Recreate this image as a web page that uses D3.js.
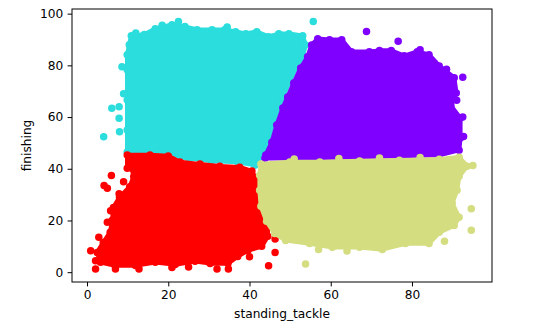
<!DOCTYPE html>
<html>
<head>
<meta charset="utf-8">
<script src="https://cdn.jsdelivr.net/npm/d3@7"></script>
<style>
  body { margin: 0; background: #fff; }
  text { font-family: "DejaVu Sans", sans-serif; }
</style>
</head>
<body>
<div id="chart"></div>
<script>
// cluster colours (rainbow colormap)
const clusterNames = ["cyan", "purple", "red", "yellow"];
const clusterColors = ["#2bdddd", "#8000ff", "#ff0000", "#d4dd80"];

// outline of the dense part of each cluster, [standing_tackle, finishing]
const cyanOutline = [
  [10.9, 91.5], [14.1, 91.9], [16.8, 94.2], [20.9, 95.7], [24.1, 95.0], [27.1, 93.8],
  [30.8, 93.8], [33.9, 93.8], [36.6, 93.0], [39.1, 92.2], [41.8, 93.0], [44.7, 91.1],
  [47.2, 92.2], [49.7, 92.2], [53.1, 91.5], [53.8, 87.9], [53.1, 83.3], [51.4, 79.0],
  [49.7, 73.2], [48.2, 67.8], [47.2, 63.5], [45.7, 56.9], [44.5, 50.3], [43.0, 44.9],
  [41.3, 41.4], [37.1, 42.6], [30.7, 43.0], [25.1, 44.1], [20.9, 44.9], [18.0, 46.5],
  [9.9, 46.5], [9.9, 55.0], [9.9, 66.6], [9.9, 78.3], [9.9, 84.1], [10.4, 88.0]
];
const cyanOutliers = [
  [4.1, 52.4], [6.1, 63.4], [7.9, 64.0], [7.9, 59.5], [8.0, 54.3], [8.6, 79.5], [55.7, 97.0],
  [9.0, 69.0], [18.5, 95.5], [22.5, 97.0], [34.5, 94.8], [12.0, 92.5]
];

const purpleOutline = [
  [56.8, 90.3], [59.7, 89.9], [62.7, 89.9], [65.1, 85.3], [69.5, 85.3], [72.0, 85.7],
  [74.9, 85.7], [78.1, 83.7], [81.3, 85.3], [84.2, 84.1], [86.7, 79.8], [90.4, 75.2],
  [90.9, 69.3], [89.6, 64.3], [91.9, 59.6], [91.9, 51.9], [91.6, 47.2], [86.7, 45.3],
  [76.9, 44.9], [64.6, 44.5], [52.3, 44.1], [43.8, 44.1], [44.0, 45.3], [45.5, 50.3],
  [46.7, 56.9], [48.2, 63.5], [49.4, 67.8], [50.9, 73.2], [52.6, 79.0], [54.3, 83.3],
  [55.3, 87.9]
];
const purpleOutliers = [
  [68.8, 93.1], [76.6, 89.3], [92.5, 75.4], [92.5, 60.0], [92.7, 52.5],
  [60.5, 88.0], [82.0, 86.0], [88.5, 78.5], [91.0, 66.5]
];

const redOutline = [
  [9.9, 45.3], [15.5, 45.3], [20.0, 44.9], [22.9, 42.6], [27.8, 41.8], [32.7, 41.0],
  [37.6, 40.6], [40.6, 39.1], [42.0, 34.8], [43.0, 29.8], [44.0, 24.7], [44.5, 19.3],
  [44.5, 13.9], [43.0, 10.0], [39.6, 8.4], [37.1, 6.1], [34.7, 3.4], [30.3, 3.4],
  [26.6, 4.2], [21.7, 3.0], [16.8, 3.8], [11.9, 2.6], [6.9, 2.6], [3.3, 3.8],
  [2.5, 7.6], [4.0, 11.5], [5.7, 15.4], [6.2, 20.1], [6.5, 25.0], [8.0, 29.0],
  [10.5, 33.0], [11.5, 37.0], [11.0, 40.2], [9.9, 40.2]
];
const redOutliers = [
  [6.0, 37.4], [4.2, 33.5], [5.0, 32.5], [7.9, 30.3], [5.8, 23.8], [5.0, 19.3],
  [2.9, 13.5], [0.9, 8.3], [2.1, 4.4], [2.1, 1.2], [44.7, 2.5], [46.3, 7.6],
  [46.3, 12.8], [45.5, 19.3], [32.0, 1.2], [34.8, 1.2], [20.9, 1.8], [12.8, 1.2], [7.0, 1.2],
  [13.5, 36.0], [9.0, 35.0], [40.0, 6.0], [25.0, 2.0]
];

const yellowOutline = [
  [42.8, 41.8], [49.9, 42.6], [57.3, 42.6], [67.1, 43.0], [76.9, 43.3], [86.7, 43.7],
  [91.6, 44.5], [93.6, 41.0], [91.6, 37.1], [91.1, 31.7], [89.9, 26.7], [91.6, 21.2],
  [90.4, 18.1], [86.7, 15.4], [84.2, 11.1], [78.4, 11.1], [72.7, 8.8], [67.1, 9.6],
  [60.4, 9.6], [54.8, 11.1], [48.9, 12.3], [46.2, 15.0], [44.2, 19.7], [42.8, 25.5],
  [42.5, 31.7], [42.5, 37.5]
];
const yellowOutliers = [
  [94.6, 24.5], [94.6, 16.2], [53.8, 3.2], [95.0, 41.3],
  [51.0, 43.8], [62.0, 44.0], [72.0, 44.2], [82.0, 44.4], [88.0, 12.0], [64.0, 8.2], [57.0, 8.8]
];

const xTicks = [0, 20, 40, 60, 80];
const yTicks = [0, 20, 40, 60, 80, 100];

// draw order matters: later clusters sit on top at the borders
const clusters = [
  { color: clusterColors[0], outline: cyanOutline, outliers: cyanOutliers },
  { color: clusterColors[1], outline: purpleOutline, outliers: purpleOutliers },
  { color: clusterColors[2], outline: redOutline, outliers: redOutliers },
  { color: clusterColors[3], outline: yellowOutline, outliers: yellowOutliers }
];

const W = 551, H = 333;
const margin = { top: 9, right: 59, bottom: 51, left: 72 };
const width = W - margin.left - margin.right;
const height = H - margin.top - margin.bottom;

const svg = d3.select("#chart").append("svg")
  .attr("width", W).attr("height", H);

const g = svg.append("g")
  .attr("transform", `translate(${margin.left},${margin.top})`);

const x = d3.scaleLinear().domain([-3.7, 99.7]).range([0, width]);
const y = d3.scaleLinear().domain([-3.8, 101.8]).range([height, 0]);

const r = 3.75;
const line = d3.line().x(d => x(d[0])).y(d => y(d[1])).curve(d3.curveLinearClosed);

const plot = g.append("g");
clusters.forEach(c => {
  const cg = plot.append("g");
  cg.append("path")
    .attr("d", line(c.outline))
    .attr("fill", c.color)
    .attr("stroke", c.color)
    .attr("stroke-width", 4.5)
    .attr("stroke-linejoin", "round");
  cg.selectAll("circle")
    .data(c.outline.concat(c.outliers))
    .enter().append("circle")
    .attr("cx", d => x(d[0]))
    .attr("cy", d => y(d[1]))
    .attr("r", r)
    .attr("fill", c.color);
});

// axes
const xAxis = g.append("g")
  .attr("transform", `translate(0,${height})`)
  .call(d3.axisBottom(x).tickValues(xTicks).tickSize(4.4).tickPadding(4.4));
const yAxis = g.append("g")
  .call(d3.axisLeft(y).tickValues(yTicks).tickSize(4.4).tickPadding(4.4));

[xAxis, yAxis].forEach(a => {
  a.select(".domain").remove();
  a.selectAll(".tick line").attr("stroke", "#000").attr("stroke-width", 1);
  a.selectAll(".tick text")
    .attr("fill", "#000")
    .style("font-size", "12.2px")
    .style("font-family", "DejaVu Sans");
});

// frame
g.append("rect")
  .attr("x", 0).attr("y", 0)
  .attr("width", width).attr("height", height)
  .attr("fill", "none")
  .attr("stroke", "#000")
  .attr("stroke-width", 1);

// labels
g.append("text")
  .attr("x", width / 2)
  .attr("y", height + 36)
  .attr("text-anchor", "middle")
  .style("font-size", "12.2px")
  .text("standing_tackle");

g.append("text")
  .attr("transform", `translate(${-41},${height / 2}) rotate(-90)`)
  .attr("text-anchor", "middle")
  .style("font-size", "12.2px")
  .text("finishing");
</script>
</body>
</html>
